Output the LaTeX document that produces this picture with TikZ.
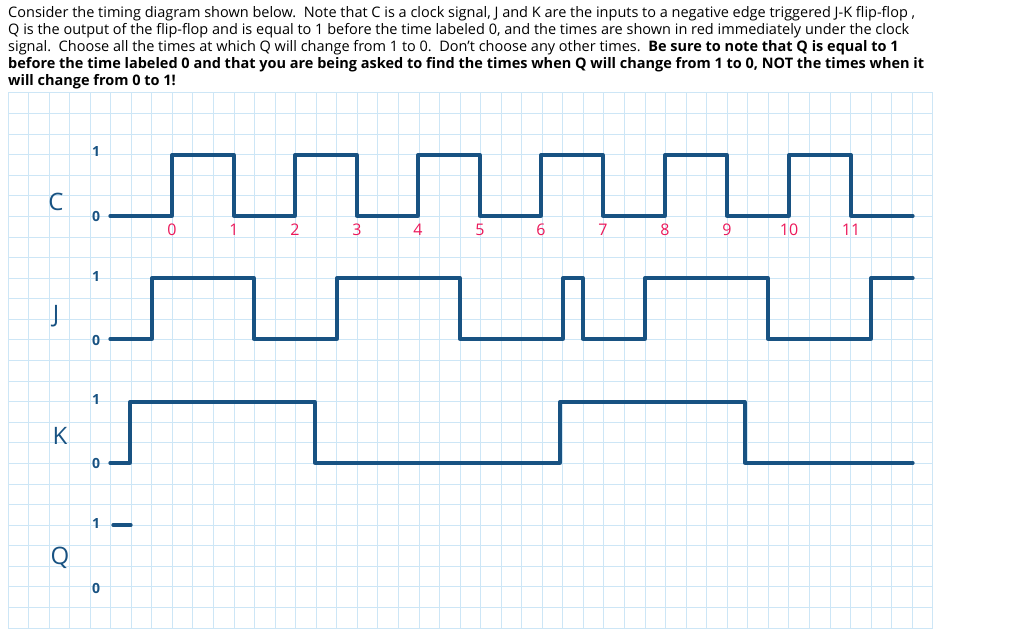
\documentclass[tikz,border=0pt]{standalone}
\usepackage{fontspec}
\setmainfont{Open Sans}
\definecolor{wave}{RGB}{24,82,130}
\definecolor{lab}{RGB}{236,24,90}
\definecolor{gridc}{RGB}{205,230,246}
\begin{document}
\begin{tikzpicture}[x=1pt,y=-1pt,
  wv/.style={wave,line width=3.3pt,line join=round,line cap=round},
  hd/.style={anchor=base west,inner sep=0pt,font=\fontsize{14.5}{16}\selectfont},
  rl/.style={lab,font=\fontsize{16}{16}\selectfont},
  bl/.style={wave,font=\fontsize{14}{14}\selectfont\bfseries},
  sig/.style={wave,font=\fontsize{24}{24}\selectfont}]
\useasboundingbox (0,0) rectangle (1024,636);
\fill[white] (0,0) rectangle (1024,636);
\node[hd] (h1) at (8,18) {Consider the timing diagram shown below.\ \ Note that C is a clock signal, J and K are the inputs to a negative edge triggered J-K flip-flop ,};
\node[hd] (h2) at (8,35) {Q is the output of the flip-flop and is equal to 1 before the time labeled 0, and the times are shown in red immediately under the clock};
\node[hd] (h3) at (8,52) {signal.\ \ Choose all the times at which Q will change from 1 to 0.\ \ Don't choose any other times.\ \ \textbf{Be sure to note that Q is equal to 1}};
\node[hd] (h4) at (8,69) {\textbf{before the time labeled 0 and that you are being asked to find the times when Q will change from 1 to 0, NOT the times when it}};
\node[hd] (h5) at (8,86) {\textbf{will change from 0 to 1!}};
\foreach \i in {0,...,45} \draw[gridc,line width=1pt] (8+\i*20.55,93) -- (8+\i*20.55,628);
\foreach \j in {0,...,26} \draw[gridc,line width=1pt] (8,93+\j*20.58) -- (933,93+\j*20.58);
% clock
\draw[wv] (110,216) -- (172,216) -- (172,155) -- (234,155) -- (234,216) -- (295,216) -- (295,155) -- (357,155) -- (357,216) -- (418,216) -- (418,155) -- (480,155) -- (480,216) -- (541,216) -- (541,155) -- (603,155) -- (603,216) -- (665,216) -- (665,155) -- (727,155) -- (727,216) -- (789,216) -- (789,155) -- (851,155) -- (851,216) -- (913,216);
\foreach \x/\t in {172/0,234/1,295/2,357/3,418/4,480/5,541/6,603/7,665/8,727/9,789/10,851/11}
  \node[rl] (t\t) at (\x,230) {\t};
% J
\draw[wv] (110,339) -- (152,339) -- (152,278) -- (254,278) -- (254,339) -- (337,339) -- (337,278) -- (460,278) -- (460,339) -- (563,339) -- (563,278) -- (583,278) -- (583,339) -- (645,339) -- (645,278) -- (768,278) -- (768,339) -- (871,339) -- (871,278) -- (913,278);
% K
\draw[wv] (110,463) -- (130,463) -- (130,402) -- (315,402) -- (315,463) -- (560,463) -- (560,402) -- (745,402) -- (745,463) -- (913,463);
% Q
\draw[wv] (113,525) -- (131,525);
% level labels
\foreach \y/\t [count=\k] in {152/1,216/0,277/1,340/0,400/1,463/0,523/1,588/0}
  \node[bl] (l\k) at (96,\y) {\t};
\node[sig] (C) at (56,202) {C};
\node[sig] (J) at (56,316) {J};
\node[sig] (K) at (60,436) {K};
\node[sig] (Q) at (60,558) {Q};
\end{tikzpicture}
\end{document}
